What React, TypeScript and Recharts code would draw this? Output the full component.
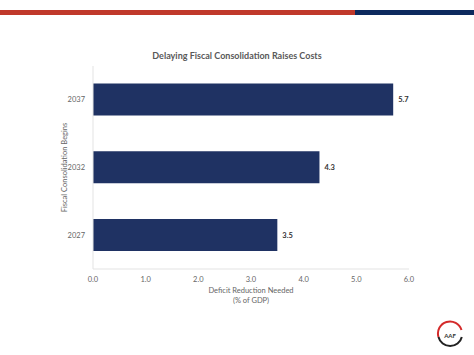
import { Bar, BarChart, LabelList, XAxis, YAxis } from 'recharts'

const years = ['2037', '2032', '2027']
const reduction = [5.7, 4.3, 3.5]
const xTicks = [0, 1, 2, 3, 4, 5, 6]

const data = years.map((year, i) => ({ year, value: reduction[i] }))

const FONT = 'Lato, "Open Sans", sans-serif'
const NAVY = '#1f3263'

function XTitle({ viewBox }: any) {
  const cx = viewBox.x + viewBox.width / 2
  const y = viewBox.y + viewBox.height
  return (
    <text x={cx} textAnchor="middle" fill="#666" fontSize={7.5} fontFamily={FONT}>
      <tspan x={cx} y={y - 6}>Deficit Reduction Needed</tspan>
      <tspan x={cx} y={y + 4}>(% of GDP)</tspan>
    </text>
  )
}

function Logo() {
  return (
    <svg width={30} height={30} style={{ position: 'absolute', left: 435, top: 320 }}>
      <path d="M 3.5 17 A 12 12 0 0 1 26.5 10" stroke="#d42a2a" strokeWidth={2} fill="none" />
      <path d="M 26.8 17 A 12 12 0 0 1 3.5 17" stroke="#222" strokeWidth={2} fill="none" />
      <text x={15} y={17.5} textAnchor="middle" fontSize={6} fontWeight="bold" fill="#333" fontFamily={FONT}>
        AAF
      </text>
    </svg>
  )
}

export default function App() {
  return (
    <div style={{ position: 'absolute', left: 0, top: 0, width: 474, height: 355, background: '#fff', overflow: 'hidden' }}>
      <div style={{ position: 'absolute', left: 0, top: 10, width: 355, height: 5, background: '#c0392b' }} />
      <div style={{ position: 'absolute', left: 355, top: 10, width: 119, height: 5, background: '#0d2a5e' }} />
      <div
        style={{
          position: 'absolute',
          top: 50,
          left: 0,
          width: 474,
          textAlign: 'center',
          fontFamily: FONT,
          fontWeight: 'bold',
          fontSize: 9,
          color: '#595959',
        }}
      >
        Delaying Fiscal Consolidation Raises Costs
      </div>
      <BarChart
        width={474}
        height={355}
        data={data}
        layout="vertical"
        margin={{ top: 66, right: 65, bottom: 56, left: 53 }}
        barCategoryGap="26%"
      >
        <XAxis
          type="number"
          domain={[0, 6]}
          ticks={xTicks}
          tickFormatter={(v: number) => v.toFixed(1)}
          axisLine={{ stroke: '#e3e3e3' }}
          tickLine={false}
          tick={{ fill: '#666', fontSize: 7.5, fontFamily: FONT }}
          label={<XTitle />}
        />
        <YAxis
          type="category"
          dataKey="year"
          width={40}
          axisLine={{ stroke: '#e3e3e3' }}
          tickLine={false}
          tick={{ fill: '#666', fontSize: 7.5, fontFamily: FONT }}
          label={{
            value: 'Fiscal Consolidation Begins',
            angle: -90,
            position: 'insideLeft',
            offset: 11,
            style: { textAnchor: 'middle', fill: '#666', fontSize: 7.5, fontFamily: FONT },
          }}
        />
        <Bar dataKey="value" fill={NAVY} isAnimationActive={false}>
          <LabelList
            dataKey="value"
            position="right"
            offset={5}
            formatter={(v: any) => Number(v).toFixed(1)}
            style={{ fill: '#333', fontSize: 7.5, fontWeight: 'bold', fontFamily: FONT }}
          />
        </Bar>
      </BarChart>
      <Logo />
    </div>
  )
}
